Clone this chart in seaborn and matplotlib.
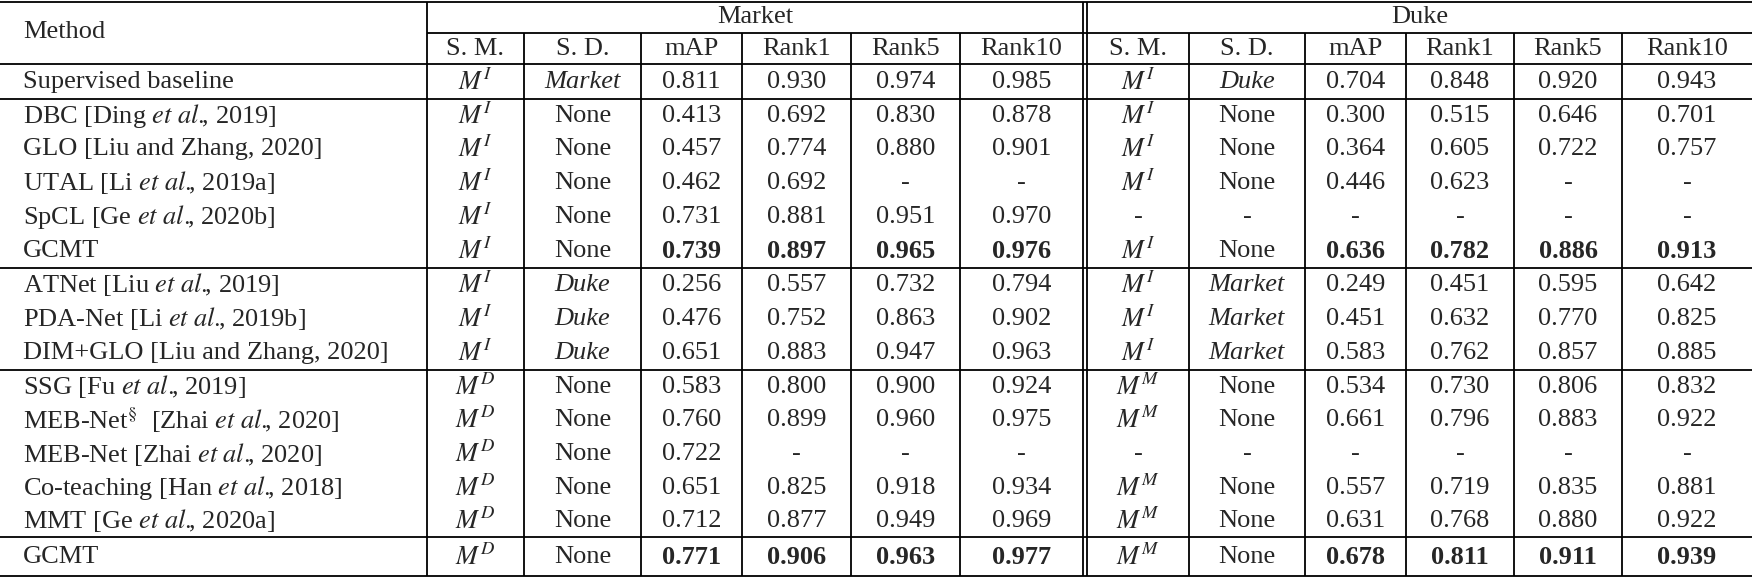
import matplotlib
matplotlib.use("Agg")
import matplotlib.pyplot as plt
import seaborn as sns

# table content
methods = [
    "Supervised baseline",
    r"DBC [Ding $\mathit{et\ al.}\!\!$, 2019]",
    "GLO [Liu and Zhang, 2020]",
    r"UTAL [Li $\mathit{et\ al.}\!\!$, 2019a]",
    r"SpCL [Ge $\mathit{et\ al.}\!\!$, 2020b]",
    "GCMT",
    r"ATNet [Liu $\mathit{et\ al.}\!\!$, 2019]",
    r"PDA-Net [Li $\mathit{et\ al.}\!\!$, 2019b]",
    "DIM+GLO [Liu and Zhang, 2020]",
    r"SSG [Fu $\mathit{et\ al.}\!\!$, 2019]",
    r"MEB-Net$^{\S}$  [Zhai $\mathit{et\ al.}\!\!$, 2020]",
    r"MEB-Net [Zhai $\mathit{et\ al.}\!\!$, 2020]",
    r"Co-teaching [Han $\mathit{et\ al.}\!\!$, 2018]",
    r"MMT [Ge $\mathit{et\ al.}\!\!$, 2020a]",
    "GCMT",
]
market_sm = ["I", "I", "I", "I", "I", "I", "I", "I", "I", "D", "D", "D", "D", "D", "D"]
market_sd = ["Market", "None", "None", "None", "None", "None", "Duke", "Duke", "Duke",
             "None", "None", "None", "None", "None", "None"]
market_vals = [
    [0.811, 0.930, 0.974, 0.985],
    [0.413, 0.692, 0.830, 0.878],
    [0.457, 0.774, 0.880, 0.901],
    [0.462, 0.692, None, None],
    [0.731, 0.881, 0.951, 0.970],
    [0.739, 0.897, 0.965, 0.976],
    [0.256, 0.557, 0.732, 0.794],
    [0.476, 0.752, 0.863, 0.902],
    [0.651, 0.883, 0.947, 0.963],
    [0.583, 0.800, 0.900, 0.924],
    [0.760, 0.899, 0.960, 0.975],
    [0.722, None, None, None],
    [0.651, 0.825, 0.918, 0.934],
    [0.712, 0.877, 0.949, 0.969],
    [0.771, 0.906, 0.963, 0.977],
]
duke_sm = ["I", "I", "I", "I", None, "I", "I", "I", "I", "M", "M", None, "M", "M", "M"]
duke_sd = ["Duke", "None", "None", "None", "-", "None", "Market", "Market", "Market",
           "None", "None", "-", "None", "None", "None"]
duke_vals = [
    [0.704, 0.848, 0.920, 0.943],
    [0.300, 0.515, 0.646, 0.701],
    [0.364, 0.605, 0.722, 0.757],
    [0.446, 0.623, None, None],
    [None, None, None, None],
    [0.636, 0.782, 0.886, 0.913],
    [0.249, 0.451, 0.595, 0.642],
    [0.451, 0.632, 0.770, 0.825],
    [0.583, 0.762, 0.857, 0.885],
    [0.534, 0.730, 0.806, 0.832],
    [0.661, 0.796, 0.883, 0.922],
    [None, None, None, None],
    [0.557, 0.719, 0.835, 0.881],
    [0.631, 0.768, 0.880, 0.922],
    [0.678, 0.811, 0.911, 0.939],
]
bold_rows = [5, 14]
sub_headers = ["S. M.", "S. D.", "mAP", "Rank1", "Rank5", "Rank10"]

sns.set_theme(style="white")
plt.rcParams["font.family"] = ["Liberation Serif", "DejaVu Serif"]
plt.rcParams["mathtext.fontset"] = "stix"
fs = 19

W, H = 1752, 579
fig = plt.figure(figsize=(W / 100, H / 100), dpi=100)
ax = fig.add_axes([0, 0, 1, 1])
ax.set_xlim(0, W)
ax.set_ylim(H, 0)
ax.axis("off")

# layout (pixels)
market_edges = [427, 524, 641, 742, 851, 960, 1083]
duke_edges = [1087, 1189, 1305, 1406, 1514, 1622, 1752]
header_y = [17, 49]
row_y = [82, 116, 149, 183, 217, 251, 285, 319, 353, 387, 420, 454, 488, 521, 557]
lw = 1.3

def hline(y, x0=0, x1=W):
    ax.plot([x0, x1], [y, y], color="black", lw=lw, solid_capstyle="butt")

def vline(x, y0, y1=576):
    ax.plot([x, x], [y0, y1], color="black", lw=lw, solid_capstyle="butt")

for y in [2, 64, 99, 268, 370, 537, 576]:
    hline(y)
hline(33, 427)
vline(427, 2)
vline(1083, 2)
vline(1087, 2)
for x in market_edges[1:-1] + duke_edges[1:-1]:
    vline(x, 33)

def centers(edges):
    return [(a + b) / 2 for a, b in zip(edges[:-1], edges[1:])]

mc, dc = centers(market_edges), centers(duke_edges)
kw = dict(ha="center", va="center", fontsize=fs)

ax.text(23, 32, "Method", ha="left", va="center", fontsize=fs)
ax.text((427 + 1083) / 2, header_y[0], "Market", **kw)
ax.text((1087 + W) / 2, header_y[0], "Duke", **kw)
for cols in (mc, dc):
    for x, lab in zip(cols, sub_headers):
        ax.text(x, header_y[1], lab, **kw)

def fill_block(cols, sms, sds, vals):
    for i, y in enumerate(row_y):
        sm = "-" if sms[i] is None else f"$M^{{{sms[i]}}}$"
        ax.text(cols[0], y, sm, **kw)
        style = "italic" if sds[i] in ("Market", "Duke") else "normal"
        ax.text(cols[1], y, sds[i], fontstyle=style, **kw)
        weight = "bold" if i in bold_rows else "normal"
        for x, v in zip(cols[2:], vals[i]):
            ax.text(x, y, "-" if v is None else f"{v:.3f}", fontweight=weight, **kw)

for i, y in enumerate(row_y):
    ax.text(23, y, methods[i], ha="left", va="center", fontsize=fs)
fill_block(mc, market_sm, market_sd, market_vals)
fill_block(dc, duke_sm, duke_sd, duke_vals)

fig.savefig("out.png", dpi=100)
